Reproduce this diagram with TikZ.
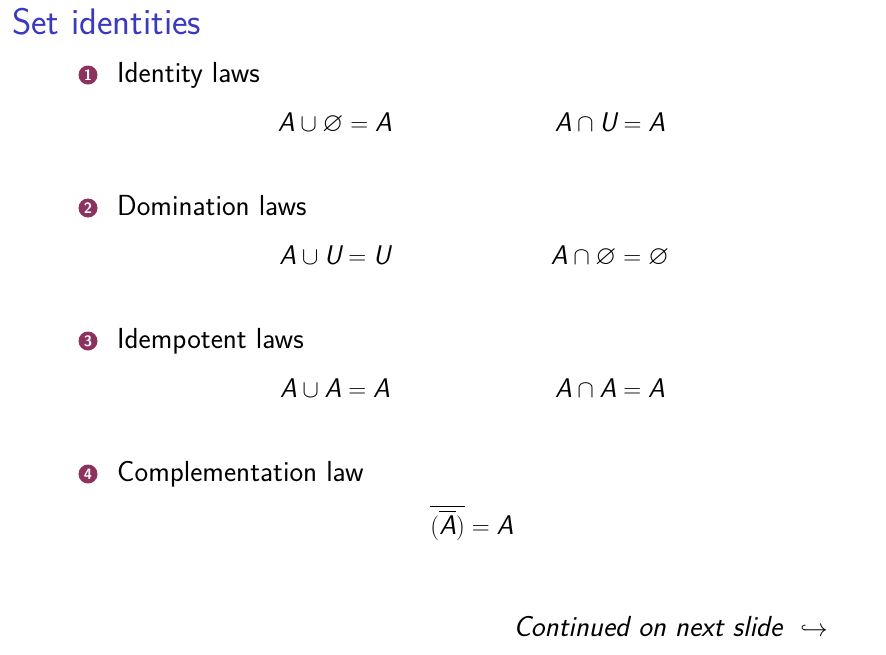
\documentclass[tikz,border=0pt]{standalone}
\usepackage{amssymb}
\definecolor{titleblue}{RGB}{58,58,190}
\definecolor{ballc}{RGB}{140,50,95}
\newcommand{\sA}{\textsf{\itshape A}}
\newcommand{\sU}{\textsf{\itshape U}}
\newcommand{\es}{\varnothing}
\begin{document}
\begin{tikzpicture}[x=1pt,y=-1pt,
  body/.style={anchor=base west,font=\sffamily\fontsize{29}{32}\selectfont,inner sep=0},
  eq/.style={anchor=base,font=\fontsize{27}{30}\selectfont,inner sep=0},
  ball/.style={circle,fill=ballc,text=white,inner sep=0,minimum size=19pt,font=\sffamily\bfseries\fontsize{15}{15}\selectfont}]
\useasboundingbox[fill=white] (0,0) rectangle (886,654);
\node[anchor=base west,inner sep=0,text=titleblue,font=\sffamily\fontsize{37}{40}\selectfont] (title) at (12,34) {Set identities};
\node[ball] (b1) at (88,75) {1};
\node[body] (t1) at (117,82) {Identity laws};
\node[eq] (e1a) at (335,131) {$\sA\cup\es=\sA$};
\node[eq] (e1b) at (610,131) {$\sA\cap\sU=\sA$};
\node[ball] (b2) at (88,208) {2};
\node[body] (t2) at (117,215) {Domination laws};
\node[eq] (e2a) at (335,264) {$\sA\cup\sU=\sU$};
\node[eq] (e2b) at (610,264) {$\sA\cap\es=\es$};
\node[ball] (b3) at (88,341) {3};
\node[body] (t3) at (117,348) {Idempotent laws};
\node[eq] (e3a) at (335,397) {$\sA\cup\sA=\sA$};
\node[eq] (e3b) at (610,397) {$\sA\cap\sA=\sA$};
\node[ball] (b4) at (88,474) {4};
\node[body] (t4) at (117,481) {Complementation law};
\node[eq] (e4) at (472,534) {$\overline{(\overline{\sA})}=\sA$};
\node[anchor=base east,inner sep=0,font=\sffamily\itshape\fontsize{29}{30}\selectfont] (cont) at (828,636) {Continued on next slide\ \ $\hookrightarrow$};
\end{tikzpicture}
\end{document}
